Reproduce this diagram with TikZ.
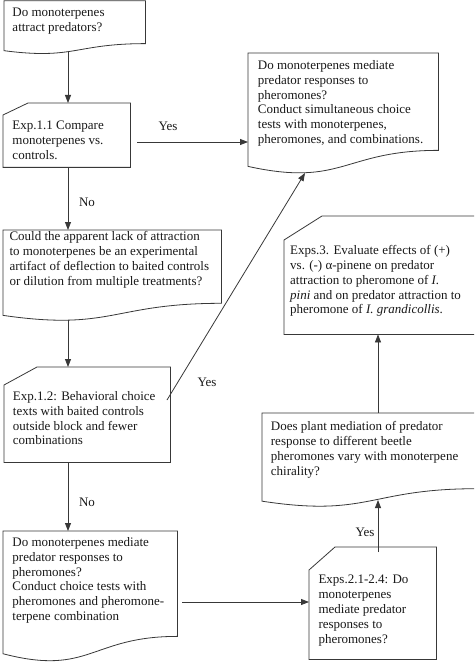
\documentclass[tikz,border=0pt]{standalone}
\usepackage{fontspec}
\setmainfont{Liberation Serif}
\usetikzlibrary{calc,arrows.meta}
\tikzset{
  frame/.style={draw=none,rectangle,inner sep=0pt,anchor=north west},
  boxline/.style={draw=black!78,line width=0.8pt},
  txt/.style={anchor=north west,inner sep=0pt,align=left,font=\fontsize{13}{14.9}\selectfont,text=black!90},
  lbl/.style={inner sep=0pt,font=\fontsize{13}{14.9}\selectfont,text=black!90},
  arr/.style={draw=black!78,line width=0.8pt,-{Triangle[length=8pt,width=6pt]}},
  plain/.style={draw=black!78,line width=0.8pt}
}
\newcommand\docbox[1]{\draw[boxline] (#1.north west) -- (#1.north east) -- ($(#1.north east)!0.802!(#1.south east)$) .. controls ($(#1.north)!0.802!(#1.south)$) and ($(#1.north)!1.107!(#1.south)$) .. ($(#1.north west)!0.934!(#1.south west)$) -- cycle;}
\newcommand\cardbox[3]{\draw[boxline] ([xshift=#2]#1.north west) -- (#1.north east) -- (#1.south east) -- (#1.south west) -- ([yshift=-#3]#1.north west) -- cycle;}
\begin{document}
\begin{tikzpicture}[x=1pt,y=-1pt]
\useasboundingbox (0,0) rectangle (474,663);
\clip (0,0) rectangle (474,663);
\fill[white] (0,0) rectangle (474,663);
% frames
\node[frame,minimum width=141pt,minimum height=53pt] (q1) at (4,0.8) {};
\node[frame,minimum width=127pt,minimum height=64pt] (q2) at (3,103) {};
\node[frame,minimum width=190pt,minimum height=121pt] (q3) at (248,53) {};
\node[frame,minimum width=218pt,minimum height=91pt] (q4) at (3,230) {};
\node[frame,minimum width=166pt,minimum height=95pt] (q5) at (4,367) {};
\node[frame,minimum width=174pt,minimum height=131pt] (q6) at (3,531) {};
\node[frame,minimum width=127pt,minimum height=112pt] (q7) at (309,547) {};
\node[frame,minimum width=214pt,minimum height=94pt] (q8) at (262,413) {};
\node[frame,minimum width=192pt,minimum height=118pt] (q9) at (284,216) {};
\docbox{q1}
\cardbox{q2}{25pt}{12pt}
\docbox{q3}
\docbox{q4}
\cardbox{q5}{33pt}{18pt}
\docbox{q6}
\cardbox{q7}{26pt}{23pt}
\docbox{q8}
\cardbox{q9}{38pt}{24pt}
% texts
\node[txt] (t1) at (12.3,7.5) {Do monoterpenes\\attract predators?};
\node[txt] (t2) at (12.3,121) {Exp.1.1 Compare\\monoterpenes vs.\\controls.};
\node[txt] (t3) at (257.7,60) {Do monoterpenes mediate\\predator responses to\\pheromones?\\Conduct simultaneous choice\\tests with monoterpenes,\\pheromones, and combinations.};
\node[txt] (t4) at (9.3,231.5) {Could the apparent lack of attraction\\to monoterpenes be an experimental\\artifact of deflection to baited controls\\or dilution from multiple treatments?};
\node[txt] (t5) at (12.7,391) {Exp.1.2: Behavioral choice\\texts with baited controls\\outside block and fewer\\combinations};
\node[txt] (t6) at (12.3,537) {Do monoterpenes mediate\\predator responses to\\pheromones?\\Conduct choice tests with\\pheromones and pheromone-\\terpene combination};
\node[txt] (t7) at (318.3,575) {Exps.2.1-2.4: Do\\monoterpenes\\mediate predator\\responses to\\pheromones?};
\node[txt] (t8) at (270.7,421) {Does plant mediation of predator\\response to different beetle\\pheromones vary with monoterpene\\chirality?};
\node[txt] (t9) at (290,245) {Exps.3. Evaluate effects of (+)\\vs. (-) α-pinene on predator\\attraction to pheromone of \textit{I.}\\\textit{pini} and on predator attraction to\\pheromone of \textit{I. grandicollis}.};
% connector coordinates
\coordinate (colA) at (68,0);
\coordinate (w1) at (68,51);
\coordinate (w4) at (68,320);
\coordinate (y1) at (137,142);
\coordinate (y2) at (167,400);
\coordinate (w3) at (305,173);
\coordinate (h6) at (182,602);
\coordinate (s7) at (378,552);
\coordinate (w8) at (378,500);
% connectors
\draw[arr] (w1) -- (q2.north -| colA);
\draw[arr] (y1) -- (y1 -| q3.west);
\node[lbl] (yes1) at (168,126) {Yes};
\draw[arr] (q2.south -| colA) -- (q4.north -| colA);
\node[lbl] (no1) at (87,202) {No};
\draw[arr] (w4) -- (q5.north -| colA);
\draw[arr] (y2) -- (w3);
\node[lbl] (yes2) at (207,382) {Yes};
\draw[arr] (q5.south -| colA) -- (q6.north -| colA);
\node[lbl] (no2) at (87,502) {No};
\draw[arr] (h6) -- (h6 -| q7.west);
\draw[arr] (s7) -- (w8);
\node[lbl] (yes3) at (365,532) {Yes};
\draw[arr] (q8.north -| s7) -- (q9.south -| s7);
\end{tikzpicture}
\end{document}
